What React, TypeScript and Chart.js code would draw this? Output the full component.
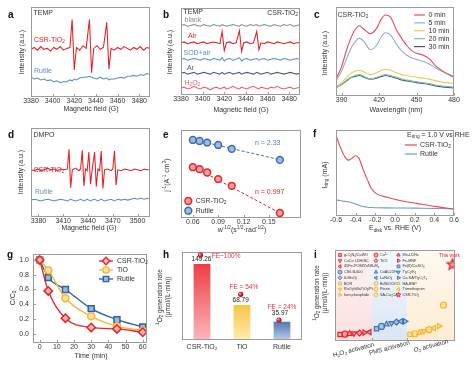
import React, { useEffect, useRef } from 'react';
import { Chart, registerables } from 'chart.js';
import { drawPoint } from 'chart.js/helpers';

Chart.register(...registerables);

const W = 474;
const H = 366;
const FAM = '"Liberation Sans", Arial, Helvetica, sans-serif';
const FRAME = '#9b9b9b';
const TXT = '#333333';
Chart.defaults.font.family = FAM;

// ---------------- data ----------------
// a / b : EPR (TEMP)
const fieldAB = [3380, 3383, 3386, 3389, 3392, 3395, 3398, 3401, 3404, 3407, 3410, 3413, 3416, 3418, 3420, 3422, 3425, 3428, 3431, 3434, 3436, 3438, 3441, 3444, 3447, 3450, 3452, 3454, 3457, 3460, 3463, 3466, 3469, 3472, 3475, 3478, 3481, 3484, 3487, 3490];
const ticksAB = [3380, 3400, 3420, 3440, 3460, 3480];
const aCSR = [53, 55, 52, 56, 53, 54, 51, 55, 53, 56, 52, 54, 55, 86, 30, 55, 52, 57, 54, 86, 27, 54, 57, 53, 55, 83, 31, 54, 52, 55, 53, 56, 54, 52, 55, 53, 56, 52, 55, 54];
const aRutile = [22, 20, 21, 19, 20, 18, 19, 17, 18, 16, 17, 17, 19, 18, 20, 19, 21, 22, 22, 23, 22, 21, 20, 22, 20, 21, 19, 20, 20, 21, 22, 21, 23, 23, 24, 23, 25, 24, 26, 25];
const bBlank = [80, 81, 79, 80, 81, 80, 79, 81, 80, 79, 81, 80, 79, 81, 80, 79, 80, 81, 80, 79, 81, 80, 79, 81, 80, 81, 79, 80, 81, 80, 79, 81, 80, 79, 81, 80, 81, 79, 80, 81];
const bAir = [60, 61, 59, 60, 61, 59, 60, 61, 59, 60, 61, 60, 59, 73, 51, 60, 61, 59, 60, 74, 50, 60, 61, 59, 60, 73, 52, 60, 59, 61, 60, 59, 61, 60, 59, 60, 61, 59, 60, 60];
const bSOD = [41, 42, 40, 41, 42, 41, 40, 42, 41, 40, 42, 41, 40, 43, 39, 41, 42, 40, 41, 43, 39, 41, 42, 40, 41, 42, 40, 41, 42, 40, 41, 42, 41, 40, 42, 41, 40, 41, 42, 41];
const bAr = [25, 26, 24, 25, 26, 24, 25, 26, 25, 24, 26, 25, 24, 26, 24, 25, 26, 24, 25, 26, 24, 25, 26, 25, 24, 26, 25, 24, 25, 26, 24, 25, 26, 25, 24, 25, 26, 25, 24, 25];
const bH2O2 = [8, 9, 7, 8, 10, 8, 7, 9, 8, 6, 8, 9, 7, 8, 9, 7, 8, 10, 8, 7, 9, 8, 7, 9, 10, 8, 7, 9, 8, 7, 9, 8, 10, 8, 7, 8, 9, 7, 8, 9];

// c : emission spectra
const wavelength = [385, 390, 394, 398, 401, 404, 408, 413, 418, 422, 425, 429, 434, 438, 442, 446, 450, 455, 460, 466, 473, 480];
const ticksC = [390, 420, 450, 480];
const c0min = [18, 33, 52, 67, 75, 79, 75, 70, 76, 87, 91, 89, 74, 65, 57, 51, 48, 46, 42, 33, 26, 21];
const c5min = [16, 28, 42, 55, 61, 65, 61, 52, 57, 67, 71, 69, 58, 51, 46, 43, 41, 39, 36, 31, 26, 22];
const c10min = [10, 15, 21, 26, 28, 29, 27, 24, 26, 29, 30, 29, 26, 24, 23, 22, 21, 20, 19, 17, 15, 14];
const c20min = [9, 13, 18, 21, 23, 24, 22, 19, 21, 23, 24, 23, 21, 19, 18, 17, 16, 15, 14, 12, 11, 10];
const c30min = [9, 13, 17, 21, 22, 23, 21, 19, 20, 22, 23, 22, 20, 18, 17, 16, 15, 14, 13, 11, 10, 9];
const cLabels = ['0 min', '5 min', '10 min', '20 min', '30 min'];

// d : EPR (DMPO)
const fieldD = [3371, 3375, 3379, 3383, 3387, 3391, 3395, 3399, 3403, 3407, 3411, 3415, 3417, 3419, 3421, 3425, 3429, 3431, 3433, 3435, 3437, 3439, 3441, 3443, 3445, 3448, 3450, 3452, 3454, 3456, 3458, 3460, 3464, 3468, 3470, 3472, 3474, 3476, 3480, 3484, 3488, 3492, 3496, 3500, 3504, 3508, 3512, 3515];
const ticksD = [3380, 3410, 3440, 3470, 3500];
const dCSR = [53, 52, 54, 52, 53, 55, 53, 54, 52, 54, 53, 54, 76, 33, 53, 55, 52, 54, 75, 35, 54, 52, 73, 37, 53, 73, 34, 54, 52, 74, 32, 53, 54, 52, 54, 74, 36, 53, 52, 54, 53, 52, 54, 53, 52, 54, 53, 53];
const dRutile = [19, 20, 19, 18, 19, 20, 19, 18, 19, 20, 19, 18, 19, 20, 19, 18, 19, 20, 19, 18, 19, 20, 19, 18, 19, 20, 19, 18, 19, 20, 19, 18, 19, 20, 19, 18, 19, 20, 19, 20, 19, 20, 21, 20, 21, 20, 21, 20];

// e : Koutecky-Levich
const eOmega = [0.060, 0.068, 0.077, 0.090, 0.106, 0.163];
const ticksE = [0.06, 0.09, 0.12, 0.15];
const eCSR = [57.7, 55.5, 51.7, 44.2, 36.6, 5.7];
const eRutile = [88.7, 87.5, 85.7, 83.0, 78.5, 66.0];
const eFitOmega = [0.060, 0.163];
const eFitCSR = [58.5, 5.8];
const eFitRutile = [89.2, 66.2];

// f : RRDE ring current
const potential = [-0.6, -0.56, -0.51, -0.475, -0.44, -0.40, -0.367, -0.32, -0.28, -0.24, -0.19, -0.09, 0.05, 0.22, 0.42, 0.6];
const ticksF = [-0.6, -0.4, -0.2, 0.0, 0.2, 0.4, 0.6];
const fCSR = [94, 81, 69, 65, 67, 70, 67, 53, 42, 32, 26, 22, 18, 14.7, 10.9, 8];
const fRutile = [18.6, 18, 17, 16.5, 15.5, 14, 12.5, 11, 10.2, 9.8, 9.6, 9.4, 9.3, 9.1, 8.8, 8.3];

// g : degradation kinetics
const gTime = [0, 5, 15, 30, 45, 60];
const ticksGx = [0, 10, 20, 30, 40, 50, 60];
const ticksGy = [0, 0.2, 0.4, 0.6, 0.8, 1.0];
const gCSR = [1.0, 0.58, 0.21, 0.085, 0.065, 0.02];
const gTiO = [1.0, 0.86, 0.48, 0.235, 0.10, 0.045];
const gRutile = [1.0, 0.76, 0.60, 0.34, 0.19, 0.09];

// h : 1O2 generation rate
const hCats = ['CSR-TiO\u2082', 'TiO', 'Rutile'];
const hRates = [149.26, 68.79, 35.97];
const hFE = ['FE~100%', 'FE = 54%', 'FE = 24%'];

// i : literature comparison
const iRedX = [1.0, 2.0, 2.9, 3.8, 4.9, 5.9, 6.9];
const iRedY = [11.9, 12.5, 13.2, 14.0, 14.8, 15.6, 16.5];
const iBlueX = [8.3, 9.3, 10.3, 11.3, 12.3, 13.2, 14.0];
const iBlueY = [23.2, 27.7, 31.7, 34.3, 36.3, 37.7, 37.7];
const iYellowX = [15.0, 16.0, 16.9, 17.8, 18.8, 19.8, 20.8, 21.7];
const iYellowY = [11.9, 13.3, 15.3, 18.4, 21.2, 24.4, 28.3, 69.4];
const iWorkX = [23.5];
const iWorkY = [149.26];
const iGroupEdges = [0, 7.4, 14.4, 24];
const iGroupLabels = ['H_{2}O_{2} activation', 'PMS activation', 'O_{2} activation'];
const iRedNames = ['g-C_{3}N_{4}/CoWO', 'Cu^{2+}', 'Mn-LDHs', 'CuCo LDH/BC', 'TiO_{2}', 'Fe-MNF', '45Fe-POM/ZnNS-M_{x}'];
const iBlueNames = ['Fe(II)/CaSO_{3}', 'CS/LB-600', 'CoAl-LDH', 'Ti_{3}C_{2}/K_{2}', '\u03b4-MnO_{2}', 'LaNiO_{3}', 'Co-SA/Ti_{3}C_{2}T_{x}'];
const iYellowNames = ['BOR', 'Bi/BiOCl/O_{V}', 'HA-BNP', 'RuO_{2}/xBaTiO_{3}/Pt', 'Pterin', 'Trimethoprim', 'Iron phosphide', 'SA-Cu_{1}CA'];

// ---------------- styles ----------------
const RED = '#e41f26';
const BLUE_L = '#5b8ec8';
const C_COLORS = ['#ea4a55', '#8daed3', '#f7c548', '#72c6a1', '#4b4a8a'];
const GROUP = {
  r: { line: '#e3242b', fill: '#f6a5a5' },
  b: { line: '#3f73b5', fill: '#a8c4e6' },
  y: { line: '#f2b530', fill: '#fce29a' },
};
const SHAPES: any = {
  r: [['rect', 0], ['circle', 0], ['triangle', 0], ['triangle', 180], ['rectRot', 0], ['triangle', 90], ['triangle', 270]],
  b: [['rect', 0], ['circle', 0], ['triangle', 0], ['triangle', 180], ['rectRot', 0], ['triangle', 270], ['triangle', 90]],
  y: [['rect', 0], ['circle', 0], ['triangle', 0], ['triangle', 180], ['circle', 0], ['triangle', 270], ['triangle', 90], ['circle', 0]],
};

// ---------------- helpers ----------------
function parseRich(t: string) {
  const segs: { s: string; k: number }[] = [];
  let buf = '';
  let i = 0;
  while (i < t.length) {
    const ch = t[i];
    if ((ch === '_' || ch === '^') && t[i + 1] === '{') {
      if (buf) { segs.push({ s: buf, k: 0 }); buf = ''; }
      const end = t.indexOf('}', i + 2);
      segs.push({ s: t.slice(i + 2, end), k: ch === '^' ? 1 : -1 });
      i = end + 1;
    } else { buf += ch; i++; }
  }
  if (buf) segs.push({ s: buf, k: 0 });
  return segs;
}

function drawRich(ctx: CanvasRenderingContext2D, o: any) {
  const size = o.s ?? 7;
  const segs = parseRich(o.t);
  const font = (k: number) => `${o.b ? 'bold ' : ''}${k ? size * 0.68 : size}px ${FAM}`;
  const widths = segs.map((sg) => { ctx.font = font(sg.k); return ctx.measureText(sg.s).width; });
  const total = widths.reduce((a, b) => a + b, 0);
  ctx.save();
  ctx.translate(o.x, o.y);
  if (o.r) ctx.rotate((o.r * Math.PI) / 180);
  let x = o.a === 'center' ? -total / 2 : o.a === 'right' ? -total : 0;
  ctx.fillStyle = o.c ?? TXT;
  ctx.textBaseline = 'middle';
  ctx.textAlign = 'left';
  segs.forEach((sg, i) => {
    ctx.font = font(sg.k);
    const dy = sg.k === 1 ? -size * 0.3 : sg.k === -1 ? size * 0.28 : 0;
    ctx.fillText(sg.s, x, dy);
    x += widths[i];
  });
  ctx.restore();
}

function starPath(ctx: CanvasRenderingContext2D, cx: number, cy: number, R: number, r: number) {
  ctx.beginPath();
  for (let k = 0; k < 10; k++) {
    const ang = -Math.PI / 2 + (k * Math.PI) / 5;
    const rad = k % 2 === 0 ? R : r;
    const px = cx + rad * Math.cos(ang);
    const py = cy + rad * Math.sin(ang);
    if (k === 0) ctx.moveTo(px, py); else ctx.lineTo(px, py);
  }
  ctx.closePath();
}

function makeStar(R: number, r: number) {
  const size = Math.ceil(2 * R + 4);
  const c = document.createElement('canvas');
  c.width = size; c.height = size;
  const ctx = c.getContext('2d')!;
  starPath(ctx, size / 2, size / 2, R, r);
  ctx.fillStyle = '#f7a8a8'; ctx.fill();
  ctx.strokeStyle = '#e3242b'; ctx.lineWidth = 1.4; ctx.stroke();
  return c;
}

function sphere(ctx: CanvasRenderingContext2D, x: number, y: number, r: number) {
  const g = ctx.createRadialGradient(x - r * 0.35, y - r * 0.35, r * 0.1, x, y, r);
  g.addColorStop(0, '#ffc0c0');
  g.addColorStop(0.5, '#e8232b');
  g.addColorStop(1, '#a00d12');
  ctx.fillStyle = g;
  ctx.beginPath(); ctx.arc(x, y, r, 0, Math.PI * 2); ctx.fill();
}

function mark(ctx: CanvasRenderingContext2D, style: string, rot: number, r: number, x: number, y: number, line: string, fill: string, bw: number) {
  ctx.save();
  ctx.strokeStyle = line; ctx.fillStyle = fill; ctx.lineWidth = bw;
  drawPoint(ctx, { pointStyle: style, rotation: rot, radius: r, borderWidth: bw } as any, x, y);
  ctx.restore();
}

function hline(ctx: CanvasRenderingContext2D, x0: number, x1: number, y: number, color: string, w = 1.2) {
  ctx.save(); ctx.strokeStyle = color; ctx.lineWidth = w;
  ctx.beginPath(); ctx.moveTo(x0, y); ctx.lineTo(x1, y); ctx.stroke(); ctx.restore();
}

const ln = (xs: number[], ys: number[], color: string, extra: any = {}) => ({
  data: xs.map((x, i) => ({ x, y: ys[i] })),
  borderColor: color, backgroundColor: color, borderWidth: 1.05, pointRadius: 0, tension: 0, fill: false, ...extra,
});

const TICKFONT = { size: 7, family: FAM, lineHeight: 1 };
const NOGRID = { display: false, drawTicks: false, tickLength: 0 };

function xAxis(min: number, max: number, ticks: number[], fmt: (v: number) => string) {
  return {
    type: 'linear', min, max,
    afterBuildTicks: (s: any) => { s.ticks = ticks.map((v) => ({ value: v })); },
    ticks: { font: TICKFONT, color: TXT, padding: 0.5, maxRotation: 0, minRotation: 0, autoSkip: false, callback: (v: any) => fmt(Number(v)) },
    grid: NOGRID,
    border: { display: false },
  };
}

const L = (t: string, x: number, y: number) => ({ t, x, y, s: 10, b: true, c: '#111' });

function decor(sp: any) {
  return {
    id: 'decor',
    beforeDatasetsDraw(chart: any) { if (sp.under) sp.under(chart); },
    afterDatasetsDraw(chart: any) {
      const ctx = chart.ctx; const a = chart.chartArea;
      ctx.save();
      ctx.strokeStyle = FRAME; ctx.lineWidth = 1;
      const L0 = Math.round(a.left) + 0.5, T0 = Math.round(a.top) + 0.5;
      const R0 = Math.round(a.right) - 0.5, B0 = Math.round(a.bottom) - 0.5;
      ctx.strokeRect(L0, T0, R0 - L0, B0 - T0);
      if (sp.inTicksX) {
        const xs = chart.scales.x;
        xs.ticks.forEach((tk: any) => {
          const px = Math.round(xs.getPixelForValue(tk.value)) + 0.5;
          ctx.beginPath(); ctx.moveTo(px, B0); ctx.lineTo(px, B0 - 2.5); ctx.stroke();
        });
      }
      if (sp.inTicksY) {
        const ys = chart.scales.y;
        ys.ticks.forEach((tk: any) => {
          const py = Math.round(ys.getPixelForValue(tk.value)) + 0.5;
          ctx.beginPath(); ctx.moveTo(L0, py); ctx.lineTo(L0 + 2.5, py); ctx.stroke();
        });
      }
      ctx.restore();
      if (sp.over) sp.over(chart);
      (sp.texts || []).forEach((t: any) => drawRich(ctx, t));
    },
  };
}

function build(sp: any) {
  const [l, t, r, b] = sp.box;
  const yW = sp.yW || 0;
  const xH = sp.x.display === false ? 0 : 12;
  return {
    type: sp.type,
    data: sp.data,
    options: {
      animation: false, responsive: false, maintainAspectRatio: false, events: [],
      layout: { padding: { left: l - yW, top: t, right: W - r, bottom: H - b - xH } },
      plugins: { legend: { display: false }, tooltip: { enabled: false }, title: { display: false } },
      scales: {
        x: { ...sp.x, afterFit: (s: any) => { s.height = xH; } },
        y: { ...sp.y, afterFit: (s: any) => { s.width = yW; } },
      },
    },
    plugins: [decor(sp)],
  };
}

function makeSpecs() {
  const star = makeStar(5.6, 2.4);
  const f1 = (v: number) => String(v);
  const specs: any[] = [];

  // a
  specs.push({
    box: [31, 7, 150, 97], type: 'line', inTicksX: true,
    data: { datasets: [ln(fieldAB, aCSR, RED), ln(fieldAB, aRutile, BLUE_L)] },
    x: xAxis(3380, 3490, ticksAB, f1), y: { display: false, min: 0, max: 100 },
    texts: [
      L('a', 8, 15),
      { t: 'TEMP', x: 33.5, y: 13.5 },
      { t: 'CSR-TiO_{2}', x: 34, y: 40, c: RED },
      { t: 'Rutile', x: 34, y: 71, c: BLUE_L },
      { t: 'Intensity (a.u.)', x: 22, y: 52, r: -90, a: 'center' },
      { t: 'Magnetic field (G)', x: 91, y: 109.5, a: 'center' },
    ],
  });

  // b
  specs.push({
    box: [181, 8, 300, 95], type: 'line', inTicksX: true,
    data: { datasets: [
      ln(fieldAB, bBlank, '#8c8c8c'), ln(fieldAB, bAir, RED), ln(fieldAB, bSOD, '#5a8ec6'),
      ln(fieldAB, bAr, '#4b5596'), ln(fieldAB, bH2O2, '#e8616e'),
    ] },
    x: xAxis(3380, 3490, ticksAB, f1), y: { display: false, min: 0, max: 100 },
    texts: [
      L('b', 163, 15),
      { t: 'TEMP', x: 183.5, y: 12 },
      { t: 'CSR-TiO_{2}', x: 298, y: 13, a: 'right' },
      { t: 'blank', x: 184.5, y: 20, c: '#8c8c8c' },
      { t: 'Air', x: 188, y: 36, c: RED },
      { t: 'SOD+air', x: 183.5, y: 53, c: '#5a8ec6' },
      { t: 'Ar', x: 187, y: 68.5, c: '#4b5596' },
      { t: 'H_{2}O_{2}', x: 184.5, y: 83, c: '#e8616e' },
      { t: 'Intensity (a.u.)', x: 170, y: 52, r: -90, a: 'center' },
      { t: 'Magnetic field (G)', x: 241, y: 110.5, a: 'center' },
    ],
  });

  // c
  const cSeries = [c0min, c5min, c10min, c20min, c30min];
  specs.push({
    box: [336, 7, 454, 96], type: 'line', inTicksX: true,
    data: { datasets: cSeries.map((s, k) => ln(wavelength, s, C_COLORS[k], { borderWidth: 1.1, cubicInterpolationMode: 'monotone' })) },
    x: xAxis(385.5, 480, ticksC, f1), y: { display: false, min: 0, max: 100 },
    texts: [
      L('c', 314, 15),
      { t: 'CSR-TiO_{2}', x: 337.5, y: 15 },
      { t: 'Intensity (a.u.)', x: 325, y: 53, r: -90, a: 'center' },
      { t: 'Wavelength (nm)', x: 396, y: 110.5, a: 'center' },
    ],
    over: (chart: any) => {
      const ctx = chart.ctx;
      cLabels.forEach((lab, k) => {
        const y = 15 + k * 7.9;
        hline(ctx, 414, 425, y, C_COLORS[k], 1.2);
        drawRich(ctx, { t: lab, x: 428.5, y });
      });
    },
  });

  // d
  specs.push({
    box: [31, 128, 150, 217], type: 'line', inTicksX: true,
    data: { datasets: [ln(fieldD, dCSR, RED), ln(fieldD, dRutile, BLUE_L)] },
    x: xAxis(3371, 3515, ticksD, f1), y: { display: false, min: 0, max: 100 },
    texts: [
      L('d', 8, 135),
      { t: 'DMPO', x: 33.5, y: 135 },
      { t: 'CSR-TiO_{2}', x: 33.5, y: 170, c: RED },
      { t: 'Rutile', x: 35, y: 192, c: BLUE_L },
      { t: 'Intensity (a.u.)', x: 21, y: 172, r: -90, a: 'center' },
      { t: 'Magnetic field (G)', x: 89, y: 228.5, a: 'center' },
    ],
  });

  // e
  const E_RED = '#e3242b', E_RED_F = '#f4a0a0', E_BLUE = '#3f6cad', E_BLUE_F = '#9dbbe0';
  const pts = (xs: number[], ys: number[], line: string, fill: string) => ({
    data: xs.map((x, i) => ({ x, y: ys[i] })), pointStyle: 'circle', pointRadius: 3.4,
    pointBorderWidth: 1.5, borderColor: line, backgroundColor: fill, showLine: false,
  });
  specs.push({
    box: [181, 130, 301, 218], type: 'scatter', inTicksX: true,
    data: { datasets: [
      pts(eOmega, eCSR, E_RED, E_RED_F), pts(eOmega, eRutile, E_BLUE, E_BLUE_F),
      ln(eFitOmega, eFitCSR, E_RED, { showLine: true, borderDash: [3, 2], borderWidth: 1 }),
      ln(eFitOmega, eFitRutile, E_BLUE, { showLine: true, borderDash: [3, 2], borderWidth: 1 }),
    ] },
    x: xAxis(0.046, 0.188, ticksE, (v) => v.toFixed(2)), y: { display: false, min: 0, max: 100 },
    texts: [
      L('e', 163, 135),
      { t: 'n = 2.33', x: 255, y: 143, c: '#5a7fb5' },
      { t: 'n = 0.997', x: 255, y: 192, c: E_RED },
      { t: 'CSR-TiO_{2}', x: 195.7, y: 201 },
      { t: 'Rutile', x: 195.7, y: 210.7 },
      { t: 'j^{-1}(A^{-1} cm^{2})', x: 167, y: 175, r: -90, a: 'center' },
      { t: 'w^{-1/2}(s^{1/2}\u00b7rad^{-1/2})', x: 242, y: 230, a: 'center' },
    ],
    over: (chart: any) => {
      const ctx = chart.ctx;
      mark(ctx, 'circle', 0, 3.4, 188.3, 201, E_RED, E_RED_F, 1.5);
      mark(ctx, 'circle', 0, 3.4, 188.3, 210.7, E_BLUE, E_BLUE_F, 1.5);
    },
  });

  // f
  const F_RED = '#e8474f', F_BLUE = '#6c9bd0';
  specs.push({
    box: [336, 130, 454, 216], type: 'line', inTicksX: true,
    data: { datasets: [
      ln(potential, fCSR, F_RED, { borderWidth: 1.1, cubicInterpolationMode: 'monotone' }),
      ln(potential, fRutile, F_BLUE, { borderWidth: 1.1, cubicInterpolationMode: 'monotone' }),
    ] },
    x: xAxis(-0.6, 0.6, ticksF, (v) => v.toFixed(1)), y: { display: false, min: 0, max: 100 },
    texts: [
      L('f', 313, 134),
      { t: 'E_{ring} = 1.0 V vs RHE', x: 407, y: 135 },
      { t: 'CSR-TiO_{2}', x: 420, y: 145 },
      { t: 'Rutile', x: 420, y: 154 },
      { t: 'I_{ring} (mA)', x: 325, y: 175, r: -90, a: 'center' },
      { t: 'E_{disk} vs. RHE (V)', x: 395, y: 228.5, a: 'center' },
    ],
    over: (chart: any) => {
      hline(chart.ctx, 405, 417, 145, F_RED);
      hline(chart.ctx, 405, 417, 154, F_BLUE);
    },
  });

  // g
  const gSer = [
    { name: 'CSR-TiO_{2}', ys: gCSR, line: '#e3242b', fill: '#f7b4b4', style: 'rectRot', r: 4.2 },
    { name: 'TiO', ys: gTiO, line: '#f2b632', fill: '#fde5a0', style: 'circle', r: 3.5 },
    { name: 'Rutile', ys: gRutile, line: '#2e5fa3', fill: '#9ab8de', style: 'rect', r: 4.2 },
  ];
  specs.push({
    box: [33, 254, 147, 343], type: 'line', yW: 22, inTicksX: true, inTicksY: true,
    data: { datasets: gSer.map((s) => ({
      data: gTime.map((x, i) => ({ x, y: s.ys[i] })), borderColor: s.line, backgroundColor: s.fill,
      borderWidth: 1.3, pointStyle: s.style, pointRadius: s.r, pointBorderWidth: 1.5,
      pointBorderColor: s.line, pointBackgroundColor: s.fill, cubicInterpolationMode: 'monotone', fill: false,
    })) },
    x: xAxis(-3.9, 62.5, ticksGx, f1),
    y: {
      type: 'linear', min: -0.126, max: 1.08,
      afterBuildTicks: (s: any) => { s.ticks = ticksGy.map((v) => ({ value: v })); },
      ticks: { font: TICKFONT, color: TXT, padding: 4, callback: (v: any) => Number(v).toFixed(1) },
      grid: NOGRID,
      border: { display: false },
    },
    texts: [
      L('g', 7, 255),
      { t: 'C/C_{0}', x: 13, y: 298, r: -90, a: 'center' },
      { t: 'Time (min)', x: 91, y: 356, a: 'center' },
    ],
    over: (chart: any) => {
      const ctx = chart.ctx;
      gSer.forEach((s, k) => {
        const y = 261 + k * 9;
        hline(ctx, 99, 113, y, s.line, 1.3);
        mark(ctx, s.style, 0, s.r * 0.9, 106, y, s.line, s.fill, 1.4);
        drawRich(ctx, { t: s.name, x: 117, y });
      });
    },
  });

  // h
  const hGrad = [['#ee3e45', '#f9b8bb'], ['#f7c640', '#fdebb0'], ['#5277b5', '#b7cbe6']];
  const hLay = [
    { vx: -0.5, vy: -4.7, fx: 9.7, fy: -7.4, fa: 'left', dx: -1.5, dy: -9 },
    { vx: -1.3, vy: -4.7, fx: 1.8, fy: -17.4, fa: 'center', dx: -1.3, dy: -10.7 },
    { vx: -2, vy: -8.7, fx: 0, fy: -15, fa: 'center', dx: -3, dy: -1.7 },
  ];
  specs.push({
    box: [182, 252, 302, 340], type: 'bar',
    data: { labels: hCats, datasets: [{
      data: hRates, barPercentage: 0.42, categoryPercentage: 1,
      backgroundColor: (c: any) => {
        const ch = c.chart; const a = ch.chartArea; const i = c.dataIndex;
        if (!a || i === undefined) return hGrad[0][0];
        const top = ch.scales.y.getPixelForValue(hRates[i]);
        const g = ch.ctx.createLinearGradient(0, top, 0, a.bottom);
        g.addColorStop(0, hGrad[i][0]); g.addColorStop(1, hGrad[i][1]);
        return g;
      },
    }] },
    x: { type: 'category', grid: NOGRID, border: { display: false }, ticks: { font: TICKFONT, color: TXT, padding: 3.5 } },
    y: { display: false, min: 0, max: 173 },
    texts: [
      L('h', 163, 255),
      { t: '^{1}O_{2} generation rate', x: 160, y: 297, r: -90, a: 'center', s: 6.5 },
      { t: '(\u03bcmol/(L\u00b7min))', x: 168, y: 297, r: -90, a: 'center', s: 6.5 },
    ],
    over: (chart: any) => {
      const ctx = chart.ctx; const xs = chart.scales.x; const ys = chart.scales.y;
      hRates.forEach((v, i) => {
        const cx = xs.getPixelForValue(i); const top = ys.getPixelForValue(v); const q = hLay[i];
        drawRich(ctx, { t: v.toFixed(2), x: cx + q.vx, y: top + q.vy, s: 6.5, a: 'center', c: '#222' });
        drawRich(ctx, { t: hFE[i], x: cx + q.fx, y: top + q.fy, s: 6.5, a: q.fa, c: '#e3343a' });
        sphere(ctx, cx + q.dx, top + q.dy, 2.6);
      });
    },
  });

  // i
  const grp = (xs: number[], ys: number[], key: string) => ({
    data: xs.map((x, i) => ({ x, y: ys[i] })),
    pointStyle: SHAPES[key].map((s: any) => s[0]), pointRotation: SHAPES[key].map((s: any) => s[1]),
    pointRadius: 3, pointBorderWidth: 1.2, borderColor: (GROUP as any)[key].line, backgroundColor: (GROUP as any)[key].fill,
  });
  const bandCols = [['#fbdfdf', '#fdf4f4'], ['#dae6f5', '#f4f8fc'], ['#fdecd2', '#fef9f1']];
  const slots: any[] = [
    ['r', 0, 0, 0], ['r', 1, 0, 1], ['r', 2, 0, 2],
    ['r', 3, 1, 0], ['r', 4, 1, 1], ['r', 5, 1, 2],
    ['r', 6, 2, 0], ['b', 0, 2, 2],
    ['b', 1, 3, 0], ['b', 2, 3, 1], ['b', 3, 3, 2],
    ['b', 4, 4, 0], ['b', 5, 4, 1], ['b', 6, 4, 2],
    ['y', 0, 5, 0], ['y', 1, 5, 1], ['y', 2, 5, 2],
    ['y', 3, 6, 0], ['y', 4, 6, 1], ['y', 5, 6, 2],
    ['y', 6, 7, 0], ['y', 7, 7, 1], ['s', 0, 7, 2],
  ];
  const names: any = { r: iRedNames, b: iBlueNames, y: iYellowNames };
  const colX = [340, 376, 398.5];
  specs.push({
    box: [335, 250, 455, 340.5], type: 'scatter',
    data: { datasets: [
      { data: iWorkX.map((x, i) => ({ x, y: iWorkY[i] })), pointStyle: star, pointRadius: 6 },
      grp(iRedX, iRedY, 'r'), grp(iBlueX, iBlueY, 'b'), grp(iYellowX, iYellowY, 'y'),
    ] },
    x: { type: 'linear', min: 0, max: 24, display: false },
    y: { display: false, min: 0, max: 178 },
    texts: [
      L('i', 314, 255),
      { t: 'This work', x: 439, y: 256, c: '#e3242b', s: 4.9 },
      { t: '^{1}O_{2} generation rate', x: 317, y: 293, r: -90, a: 'center', s: 6.5 },
      { t: '(\u03bcmol/(L\u00b7min))', x: 325, y: 293, r: -90, a: 'center', s: 6.5 },
    ],
    under: (chart: any) => {
      const ctx = chart.ctx; const a = chart.chartArea; const xs = chart.scales.x;
      bandCols.forEach((cols, k) => {
        const x0 = xs.getPixelForValue(iGroupEdges[k]); const x1 = xs.getPixelForValue(iGroupEdges[k + 1]);
        const g = ctx.createLinearGradient(0, a.bottom, 0, a.top);
        g.addColorStop(0, cols[0]); g.addColorStop(1, cols[1]);
        ctx.fillStyle = g; ctx.fillRect(x0, a.top, x1 - x0, a.bottom - a.top);
      });
    },
    over: (chart: any) => {
      const ctx = chart.ctx; const a = chart.chartArea; const xs = chart.scales.x;
      ctx.save(); ctx.strokeStyle = FRAME; ctx.lineWidth = 1;
      [iGroupEdges[1], iGroupEdges[2]].forEach((e) => {
        const px = Math.round(xs.getPixelForValue(e)) + 0.5;
        ctx.beginPath(); ctx.moveTo(px, a.bottom); ctx.lineTo(px, a.bottom - 2.5); ctx.stroke();
      });
      ctx.restore();
      iGroupLabels.forEach((lab, k) => {
        const mid = xs.getPixelForValue((iGroupEdges[k] + iGroupEdges[k + 1]) / 2);
        drawRich(ctx, { t: lab, x: mid, y: 350 - k * 2, r: -15, a: 'center', s: 6.3 });
      });
      slots.forEach(([g, idx, row, col]) => {
        const x = colX[col]; const y = 255 + row * 5.7;
        if (g === 's') {
          ctx.save(); starPath(ctx, x, y, 2.6, 1.1); ctx.fillStyle = '#f7a8a8'; ctx.fill();
          ctx.strokeStyle = '#e3242b'; ctx.lineWidth = 0.9; ctx.stroke(); ctx.restore();
          drawRich(ctx, { t: 'CSR-TiO_{2}', x: x + 4, y, s: 3.8 });
        } else {
          const sh = SHAPES[g][idx];
          mark(ctx, sh[0], sh[1], 2, x, y, (GROUP as any)[g].line, (GROUP as any)[g].fill, 0.9);
          drawRich(ctx, { t: names[g][idx], x: x + 4, y, s: 3.8 });
        }
      });
    },
  });

  return specs;
}

export default function App() {
  const refs = useRef<(HTMLCanvasElement | null)[]>([]);
  useEffect(() => {
    const specs = makeSpecs();
    const charts = specs.map((sp, i) => new Chart(refs.current[i] as HTMLCanvasElement, build(sp) as any));
    return () => charts.forEach((c) => c.destroy());
  }, []);
  return (
    <div style={{ position: 'absolute', left: 0, top: 0, width: W, height: H, background: '#ffffff' }}>
      {Array.from({ length: 9 }).map((_, i) => (
        <canvas
          key={i}
          ref={(el) => { refs.current[i] = el; }}
          width={W}
          height={H}
          style={{ position: 'absolute', left: 0, top: 0, width: W, height: H }}
        />
      ))}
    </div>
  );
}
